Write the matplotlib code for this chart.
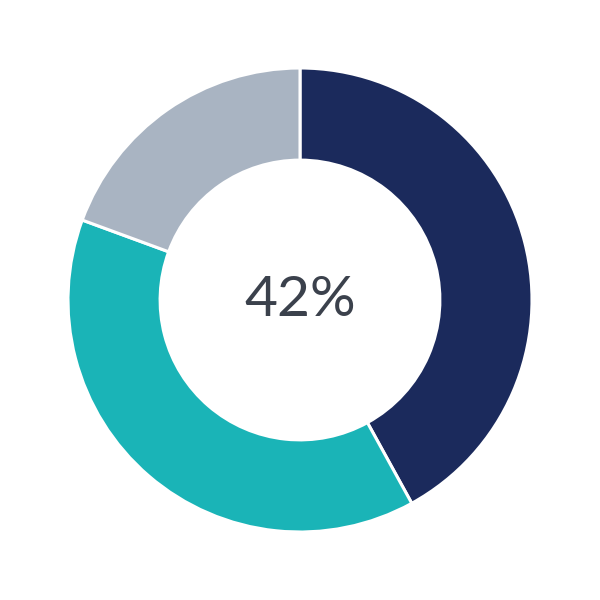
import matplotlib
matplotlib.use("Agg")
import matplotlib.pyplot as plt

labels = ["A", "B", "C"]
values = [42, 38.6, 19.4]
colors = ["#1b2a5c", "#1ab4b7", "#a9b4c2"]
center_text = "42%"

fig = plt.figure(figsize=(6, 6), dpi=100)
ax = fig.add_axes([0, 0, 1, 1])
ax.pie(values, colors=colors, startangle=90, counterclock=False, radius=1.0,
       wedgeprops=dict(width=0.397, edgecolor="white", linewidth=2.2))
ax.text(0, 0, center_text, ha="center", va="center", fontsize=41,
        color="#3b414c", family=["Lato", "DejaVu Sans"])
lim = 300 / 232
ax.set_xlim(-lim, lim)
ax.set_ylim(-lim, lim)
ax.set_aspect("equal")
ax.axis("off")
fig.savefig("out.png", dpi=100, facecolor="white")
